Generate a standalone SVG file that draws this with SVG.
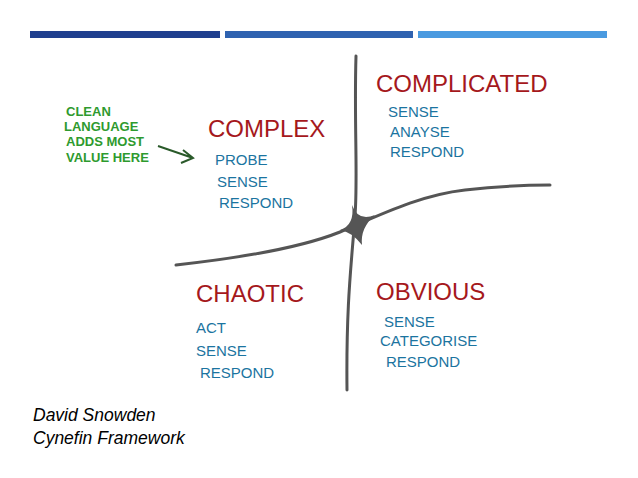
<svg xmlns="http://www.w3.org/2000/svg" width="638" height="478" viewBox="0 0 638 478">
<style>
.h{font-family:"Liberation Sans",sans-serif;fill:#a5181c;font-size:24px;}
.b{font-family:"Liberation Sans",sans-serif;fill:#1b74a0;font-size:15px;}
.g{font-family:"Liberation Sans",sans-serif;fill:#2e9a2e;font-size:13px;font-weight:bold;}
.c{font-family:"Liberation Sans",sans-serif;fill:#000;font-size:17.5px;font-style:italic;}
.ln{fill:none;stroke:#555;stroke-width:3;stroke-linecap:round;}
</style>
<rect width="638" height="478" fill="#fff"/>
<rect x="30" y="31" width="190" height="7" fill="#1f3f8f"/>
<rect x="225" y="31" width="188" height="7" fill="#2f62b0"/>
<rect x="418" y="31" width="189" height="7" fill="#4a9ae0"/>
<g id="connectors">
<path class="ln" d="M356,56 C354,120 358,180 355,215 C352,260 346,300 347,390"/>
<path class="ln" d="M176,265 C240,258 300,248 340,232 C380,215 420,195 465,190 C500,186 530,185 550,185"/>
<path d="M340,230 Q355,225 352,205 Q358,222 375,215 Q360,228 362,245 Q352,232 340,230 Z" fill="#555"/>
<path d="M158,146 L193,158 M183,150 L193,158 L181,163" fill="none" stroke="#2a5a2a" stroke-width="2"/>
</g>
<g id="complex"><text class="h" x="208" y="137">COMPLEX</text>
<text class="b" x="215" y="165">PROBE</text><text class="b" x="217" y="187">SENSE</text><text class="b" x="219" y="208">RESPOND</text></g>
<g id="complicated"><text class="h" x="376" y="92" font-size="21">COMPLICATED</text>
<text class="b" x="388" y="117">SENSE</text><text class="b" x="390" y="137">ANAYSE</text><text class="b" x="390" y="157">RESPOND</text></g>
<g id="chaotic"><text class="h" x="196" y="302" font-size="22">CHAOTIC</text>
<text class="b" x="196" y="333">ACT</text><text class="b" x="196" y="356">SENSE</text><text class="b" x="200" y="378">RESPOND</text></g>
<g id="obvious"><text class="h" x="376" y="300">OBVIOUS</text>
<text class="b" x="384" y="327">SENSE</text><text class="b" x="380" y="346">CATEGORISE</text><text class="b" x="386" y="367">RESPOND</text></g>
<g id="note"><text class="g" x="66" y="116">CLEAN</text><text class="g" x="64" y="131">LANGUAGE</text><text class="g" x="66" y="146">ADDS MOST</text><text class="g" x="66" y="162">VALUE HERE</text></g>
<g id="caption"><text class="c" x="33" y="421">David Snowden</text><text class="c" x="33" y="444">Cynefin Framework</text></g>
</svg>
